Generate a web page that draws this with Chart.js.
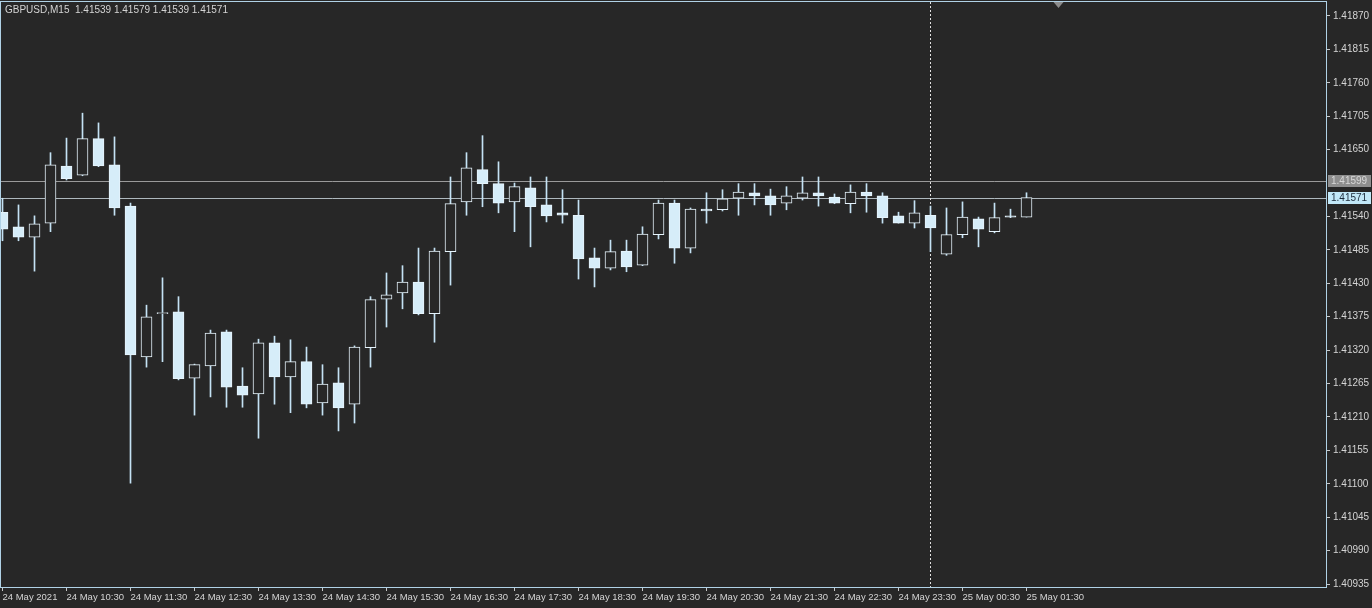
<!DOCTYPE html>
<html>
<head>
<meta charset="utf-8">
<script src="https://cdn.jsdelivr.net/npm/chart.js@4.4.0/dist/chart.umd.min.js"></script>
<style>
    html, body { margin: 0; padding: 0; background: #272727; overflow: hidden; }
    canvas { display: block; }
</style>
</head>
<body>
<canvas id="chart1" width="1372" height="608"></canvas>
<script>
// GBPUSD M15 bars, 24 May 09:30 .. 25 May 01:30
const symbol = 'GBPUSD,M15';
const opens = [
    1.41547, 1.41523, 1.41506, 1.41529, 1.41623, 1.41608, 1.41668, 1.41625, 1.41557, 1.41309,
    1.41380, 1.41383, 1.41274, 1.41294, 1.41350, 1.41261, 1.41248, 1.41332, 1.41276, 1.41301,
    1.41233, 1.41266, 1.41231, 1.41324, 1.41404, 1.41414, 1.41432, 1.41380, 1.41482, 1.41564,
    1.41617, 1.41594, 1.41564, 1.41587, 1.41559, 1.41546, 1.41542, 1.41472, 1.41455, 1.41483,
    1.41460, 1.41510, 1.41562, 1.41488, 1.41552, 1.41551, 1.41570, 1.41579, 1.41574, 1.41562,
    1.41570, 1.41579, 1.41572, 1.41561, 1.41580, 1.41574, 1.41541, 1.41529, 1.41542, 1.41478,
    1.41510, 1.41536, 1.41515, 1.41541, 1.41539
];
const highs = [
    1.41570, 1.41559, 1.41541, 1.41645, 1.41669, 1.41710, 1.41694, 1.41671, 1.41562, 1.41394,
    1.41439, 1.41408, 1.41297, 1.41353, 1.41353, 1.41291, 1.41338, 1.41343, 1.41337, 1.41325,
    1.41296, 1.41291, 1.41327, 1.41408, 1.41447, 1.41459, 1.41488, 1.41488, 1.41605, 1.41645,
    1.41673, 1.41630, 1.41595, 1.41605, 1.41605, 1.41584, 1.41567, 1.41488, 1.41501, 1.41501,
    1.41523, 1.41567, 1.41567, 1.41554, 1.41579, 1.41584, 1.41594, 1.41594, 1.41585, 1.41589,
    1.41605, 1.41605, 1.41577, 1.41592, 1.41594, 1.41579, 1.41547, 1.41566, 1.41557, 1.41554,
    1.41564, 1.41539, 1.41562, 1.41552, 1.41579
];
const lows = [
    1.41500, 1.41500, 1.41450, 1.41515, 1.41600, 1.41607, 1.41622, 1.41542, 1.41101, 1.41292,
    1.41301, 1.41271, 1.41213, 1.41243, 1.41226, 1.41226, 1.41175, 1.41231, 1.41217, 1.41225,
    1.41213, 1.41187, 1.41200, 1.41292, 1.41358, 1.41388, 1.41378, 1.41333, 1.41427, 1.41542,
    1.41556, 1.41546, 1.41515, 1.41490, 1.41531, 1.41529, 1.41437, 1.41424, 1.41452, 1.41449,
    1.41459, 1.41503, 1.41463, 1.41480, 1.41529, 1.41549, 1.41542, 1.41559, 1.41542, 1.41551,
    1.41567, 1.41557, 1.41561, 1.41546, 1.41547, 1.41529, 1.41529, 1.41521, 1.41482, 1.41476,
    1.41505, 1.41490, 1.41513, 1.41538, 1.41539
];
const closes = [
    1.41519, 1.41506, 1.41528, 1.41625, 1.41602, 1.41668, 1.41623, 1.41554, 1.41312, 1.41375,
    1.41380, 1.41273, 1.41296, 1.41348, 1.41259, 1.41246, 1.41332, 1.41276, 1.41301, 1.41231,
    1.41264, 1.41225, 1.41325, 1.41403, 1.41411, 1.41432, 1.41380, 1.41483, 1.41561, 1.41620,
    1.41594, 1.41562, 1.41589, 1.41556, 1.41541, 1.41542, 1.41470, 1.41455, 1.41482, 1.41457,
    1.41511, 1.41562, 1.41488, 1.41552, 1.41549, 1.41569, 1.41580, 1.41574, 1.41559, 1.41574,
    1.41579, 1.41574, 1.41562, 1.41580, 1.41574, 1.41538, 1.41529, 1.41546, 1.41521, 1.41510,
    1.41539, 1.41519, 1.41538, 1.41539, 1.41571
];
const timeLabels = [
    '24 May 2021', '24 May 10:30', '24 May 11:30', '24 May 12:30', '24 May 13:30', '24 May 14:30',
    '24 May 15:30', '24 May 16:30', '24 May 17:30', '24 May 18:30', '24 May 19:30', '24 May 20:30',
    '24 May 21:30', '24 May 22:30', '24 May 23:30', '25 May 00:30', '25 May 01:30'
];
const barsPerLabel = 4;
const priceTicks = [
    1.40935, 1.40990, 1.41045, 1.41100, 1.41155, 1.41210, 1.41265, 1.41320, 1.41375,
    1.41430, 1.41485, 1.41540, 1.41595, 1.41650, 1.41705, 1.41760, 1.41815, 1.41870
];
const levelPrices = [1.41599, 1.41571];
const separatorBar = 58;   // 25 May 00:00
const shiftMarkBar = 66;

const bg = '#272727';
const textColor = '#d4d4d4';
const frameColor = '#b0d2e6';
const bodyFill = '#d6edf9';
const bodyLine = '#e6f4fc';
const wickColor = '#c4e2f4';
const levelLine = ['#9a9a9a', '#aeb8be'];
const levelBox = ['#8e8e8e', '#c2e8f8'];
const levelText = ['#d8d8d8', '#1c2c3c'];

const fmt = v => v.toFixed(5);

function noPad(s) {
    s.paddingLeft = 0;
    s.paddingRight = 0;
    s.paddingTop = 0;
    s.paddingBottom = 0;
}

const mtPlugin = {
    id: 'mtDecor',
    beforeDraw(chart) {
        const ctx = chart.ctx;
        ctx.save();
        ctx.fillStyle = bg;
        ctx.fillRect(0, 0, chart.width, chart.height);
        ctx.restore();
    },
    beforeDatasetsDraw(chart) {
        const { ctx, chartArea: ca, scales } = chart;
        ctx.save();
        levelPrices.forEach((p, k) => {
            const y = Math.round(scales.y.getPixelForValue(p)) + 0.5;
            ctx.strokeStyle = levelLine[k];
            ctx.lineWidth = 1;
            ctx.beginPath();
            ctx.moveTo(ca.left, y);
            ctx.lineTo(ca.right, y);
            ctx.stroke();
        });
        const sx = Math.floor(scales.x.getPixelForValue(separatorBar)) + 0.5;
        ctx.strokeStyle = '#e0e0e0';
        ctx.setLineDash([2, 2]);
        ctx.beginPath();
        ctx.moveTo(sx, ca.top);
        ctx.lineTo(sx, ca.bottom);
        ctx.stroke();
        ctx.restore();
    },
    afterDraw(chart) {
        const { ctx, chartArea: ca, scales } = chart;
        ctx.save();
        // frame
        ctx.strokeStyle = frameColor;
        ctx.lineWidth = 1;
        ctx.strokeRect(ca.left - 0.5, ca.top - 0.5, ca.right - ca.left + 1, ca.bottom - ca.top + 1);
        // price labels for the level lines
        ctx.font = '10px "Liberation Sans"';
        ctx.textBaseline = 'middle';
        levelPrices.forEach((p, k) => {
            const y = Math.round(scales.y.getPixelForValue(p));
            ctx.fillStyle = levelBox[k];
            ctx.fillRect(ca.right + 2, y - 6, 43, 12);
            ctx.fillStyle = levelText[k];
            ctx.fillText(fmt(p), ca.right + 5, y + 0.5);
        });
        // symbol and last bar OHLC
        const n = closes.length - 1;
        ctx.fillStyle = textColor;
        ctx.fillText(symbol + '  ' + [opens[n], highs[n], lows[n], closes[n]].map(fmt).join(' '), 5, 10);
        // chart shift marker
        const tx = scales.x.getPixelForValue(shiftMarkBar);
        ctx.fillStyle = '#8c8c8c';
        ctx.beginPath();
        ctx.moveTo(tx - 5, ca.top);
        ctx.lineTo(tx + 5, ca.top);
        ctx.lineTo(tx, ca.top + 6);
        ctx.closePath();
        ctx.fill();
        ctx.restore();
    }
};

function initializeChart() {
    const bodies = opens.map((o, i) => ({ x: i, y: [o, closes[i]] }));
    const wicks = lows.map((l, i) => ({ x: i, y: [l, highs[i]] }));
    const bodyColors = opens.map((o, i) => closes[i] < o ? bodyFill : bg);

    const ctx = document.getElementById('chart1').getContext('2d');
    new Chart(ctx, {
        type: 'bar',
        data: {
            datasets: [{
                label: 'body',
                data: bodies,
                order: 1,
                grouped: false,
                barThickness: 11,
                minBarLength: 1,
                backgroundColor: bodyColors,
                borderColor: bodyLine,
                borderWidth: 1,
                borderSkipped: false
            }, {
                label: 'wick',
                data: wicks,
                order: 2,
                grouped: false,
                barThickness: 1,
                backgroundColor: wickColor,
                borderWidth: 0
            }]
        },
        options: {
            responsive: false,
            animation: false,
            devicePixelRatio: 1,
            layout: { padding: { left: 1, top: 2, right: 0, bottom: 0 } },
            plugins: { legend: { display: false }, tooltip: { enabled: false } },
            scales: {
                x: {
                    type: 'linear',
                    offset: false,
                    min: -0.09375,
                    max: 82.71875,
                    afterBuildTicks: s => { s.ticks = timeLabels.map((_, k) => ({ value: k * barsPerLabel })); },
                    afterFit: s => { s.height = 21; noPad(s); },
                    ticks: {
                        autoSkip: false,
                        maxRotation: 0,
                        align: 'start',
                        padding: 1,
                        color: textColor,
                        font: { family: 'Liberation Sans', size: 9.5 },
                        callback: (v, i) => timeLabels[i]
                    },
                    grid: { offset: false, drawOnChartArea: false, drawTicks: true, tickLength: 4, color: '#c8c8c8' },
                    border: { display: false }
                },
                y: {
                    type: 'linear',
                    position: 'right',
                    min: 1.409301,
                    max: 1.41893,
                    afterBuildTicks: s => {
                        s.ticks = priceTicks
                            .filter(p => levelPrices.every(l => Math.abs(l - p) > 0.0001))
                            .map(p => ({ value: p }));
                    },
                    afterFit: s => { s.width = 46; noPad(s); },
                    ticks: {
                        padding: 3,
                        color: textColor,
                        font: { family: 'Liberation Sans', size: 10 },
                        callback: v => fmt(v)
                    },
                    grid: { drawOnChartArea: false, drawTicks: true, tickLength: 4, color: '#c8c8c8' },
                    border: { display: false }
                }
            }
        },
        plugins: [mtPlugin]
    });
}

window.onload = initializeChart;
</script>
</body>
</html>
